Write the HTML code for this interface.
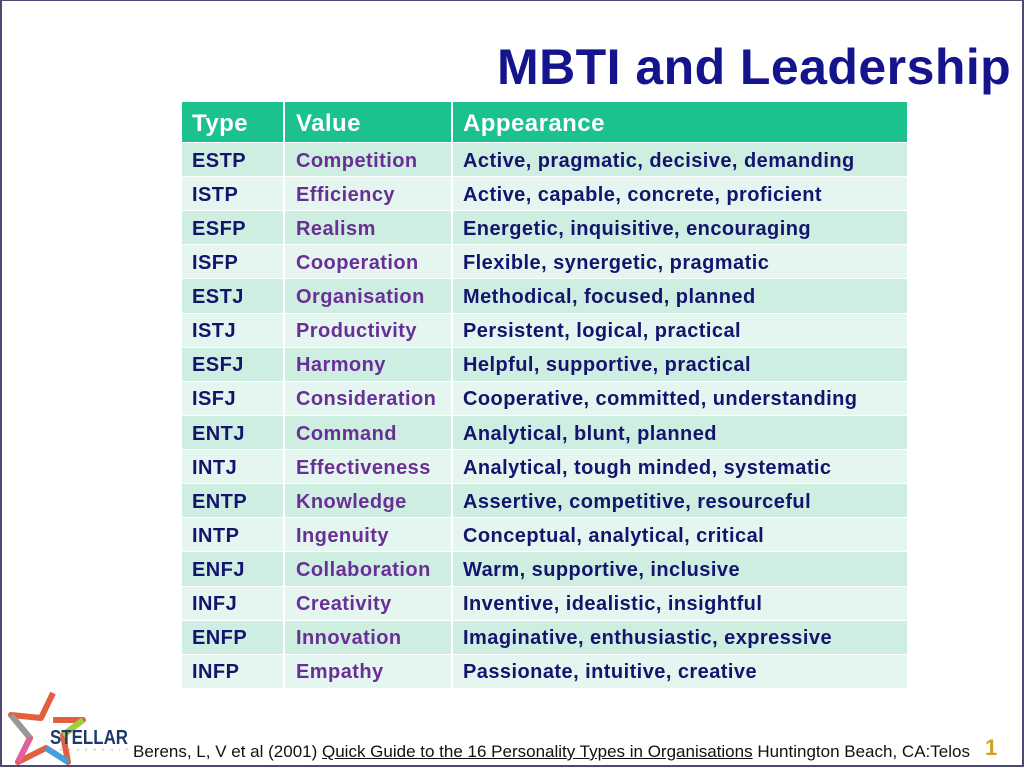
<!DOCTYPE html>
<html><head><meta charset="utf-8"><style>
html,body{margin:0;padding:0;}
body{width:1024px;height:768px;position:relative;background:#fff;overflow:hidden;font-family:"Liberation Sans",sans-serif;}
#frame{position:absolute;left:0;top:0;width:1020px;height:764px;border:2px solid #4a4a72;border-top-width:1px;}
#title{position:absolute;left:497px;top:38px;font-size:50px;font-weight:bold;color:#14148c;white-space:nowrap;letter-spacing:0.45px;}
#tbl{position:absolute;left:182px;top:102px;width:725px;}
.row{position:absolute;left:0;width:725px;height:34px;}
.cell{position:absolute;top:0;height:100%;display:flex;align-items:center;font-weight:bold;font-size:20px;letter-spacing:0.45px;white-space:nowrap;box-sizing:border-box;padding-left:10px;padding-top:3px;border-right:2px solid #fff;}
.c1{left:0;width:103px;color:#14146e;}
.c2{left:103px;width:168px;color:#6a2f96;padding-left:11px;}
.c3{left:271px;width:454px;color:#14146e;border-right:none;}
.hdr .cell{color:#fff;font-size:24px;padding-top:4px;}
#foot{position:absolute;left:133px;top:742px;font-size:17px;color:#111;white-space:nowrap;}
#pg{position:absolute;left:985px;top:735px;font-size:22px;font-weight:bold;color:#d4a020;}
#logo{position:absolute;left:8px;top:690px;width:125px;height:75px;}
</style></head><body>
<div id="frame"></div>
<div id="title">MBTI and Leadership</div>
<div id="tbl"></div>
<svg id="logo" viewBox="0 0 125 75">
<polyline points="45,3 33,28 3,25 22,48 10,72 38,58 60,72 55,45 75,30 45,30" fill="none" stroke="#e06040" stroke-width="6" stroke-linejoin="round"/>
<line x1="3" y1="25" x2="22" y2="48" stroke="#999" stroke-width="6"/>
<line x1="22" y1="48" x2="10" y2="72" stroke="#e060a0" stroke-width="6"/>
<line x1="38" y1="58" x2="60" y2="72" stroke="#40a0e0" stroke-width="6"/>
<line x1="55" y1="45" x2="75" y2="30" stroke="#a0d040" stroke-width="6"/>
<text x="42" y="54" font-family="Liberation Sans" font-weight="bold" font-size="20" fill="#1a3a6a" textLength="78" lengthAdjust="spacingAndGlyphs">STELLAR</text>
<text x="44" y="61" font-family="Liberation Sans" font-size="4" fill="#aaa" textLength="76">LEADERSHIP</text>
</svg>
<div id="foot">Berens, L, V et al (2001) <u>Quick Guide to the 16 Personality Types in Organisations</u> Huntington Beach, CA:Telos</div>
<div id="pg">1</div>
<script>
const types=["ESTP","ISTP","ESFP","ISFP","ESTJ","ISTJ","ESFJ","ISFJ","ENTJ","INTJ","ENTP","INTP","ENFJ","INFJ","ENFP","INFP"];
const values=["Competition","Efficiency","Realism","Cooperation","Organisation","Productivity","Harmony","Consideration","Command","Effectiveness","Knowledge","Ingenuity","Collaboration","Creativity","Innovation","Empathy"];
const appearances=["Active, pragmatic, decisive, demanding","Active, capable, concrete, proficient","Energetic, inquisitive, encouraging","Flexible, synergetic, pragmatic","Methodical, focused, planned","Persistent, logical, practical","Helpful, supportive, practical","Cooperative, committed, understanding","Analytical, blunt, planned","Analytical, tough minded, systematic","Assertive, competitive, resourceful","Conceptual, analytical, critical","Warm, supportive, inclusive","Inventive, idealistic, insightful","Imaginative, enthusiastic, expressive","Passionate, intuitive, creative"];
const tbl=document.getElementById('tbl');
function mk(row,cls,txt,name){const c=document.createElement('div');c.className='cell '+cls;c.textContent=txt;


row.appendChild(c);}
const h=document.createElement('div');h.className='row hdr';h.style.top='0px';h.style.height='40px';h.style.background='#1cc28e';


mk(h,'c1','Type','header-type');mk(h,'c2','Value','header-value');mk(h,'c3','Appearance','header-appearance');
tbl.appendChild(h);
const rh=34.12;
types.forEach((t,i)=>{const r=document.createElement('div');r.className='row';
r.style.top=(41+i*rh)+'px';r.style.height=(rh-1)+'px';
r.style.background=i%2===0?'#cfeee2':'#e4f6ef';


mk(r,'c1',t,'type-cell');mk(r,'c2',values[i],'value-cell');mk(r,'c3',appearances[i],'appearance-cell');
tbl.appendChild(r);});
</script>
</body></html>
